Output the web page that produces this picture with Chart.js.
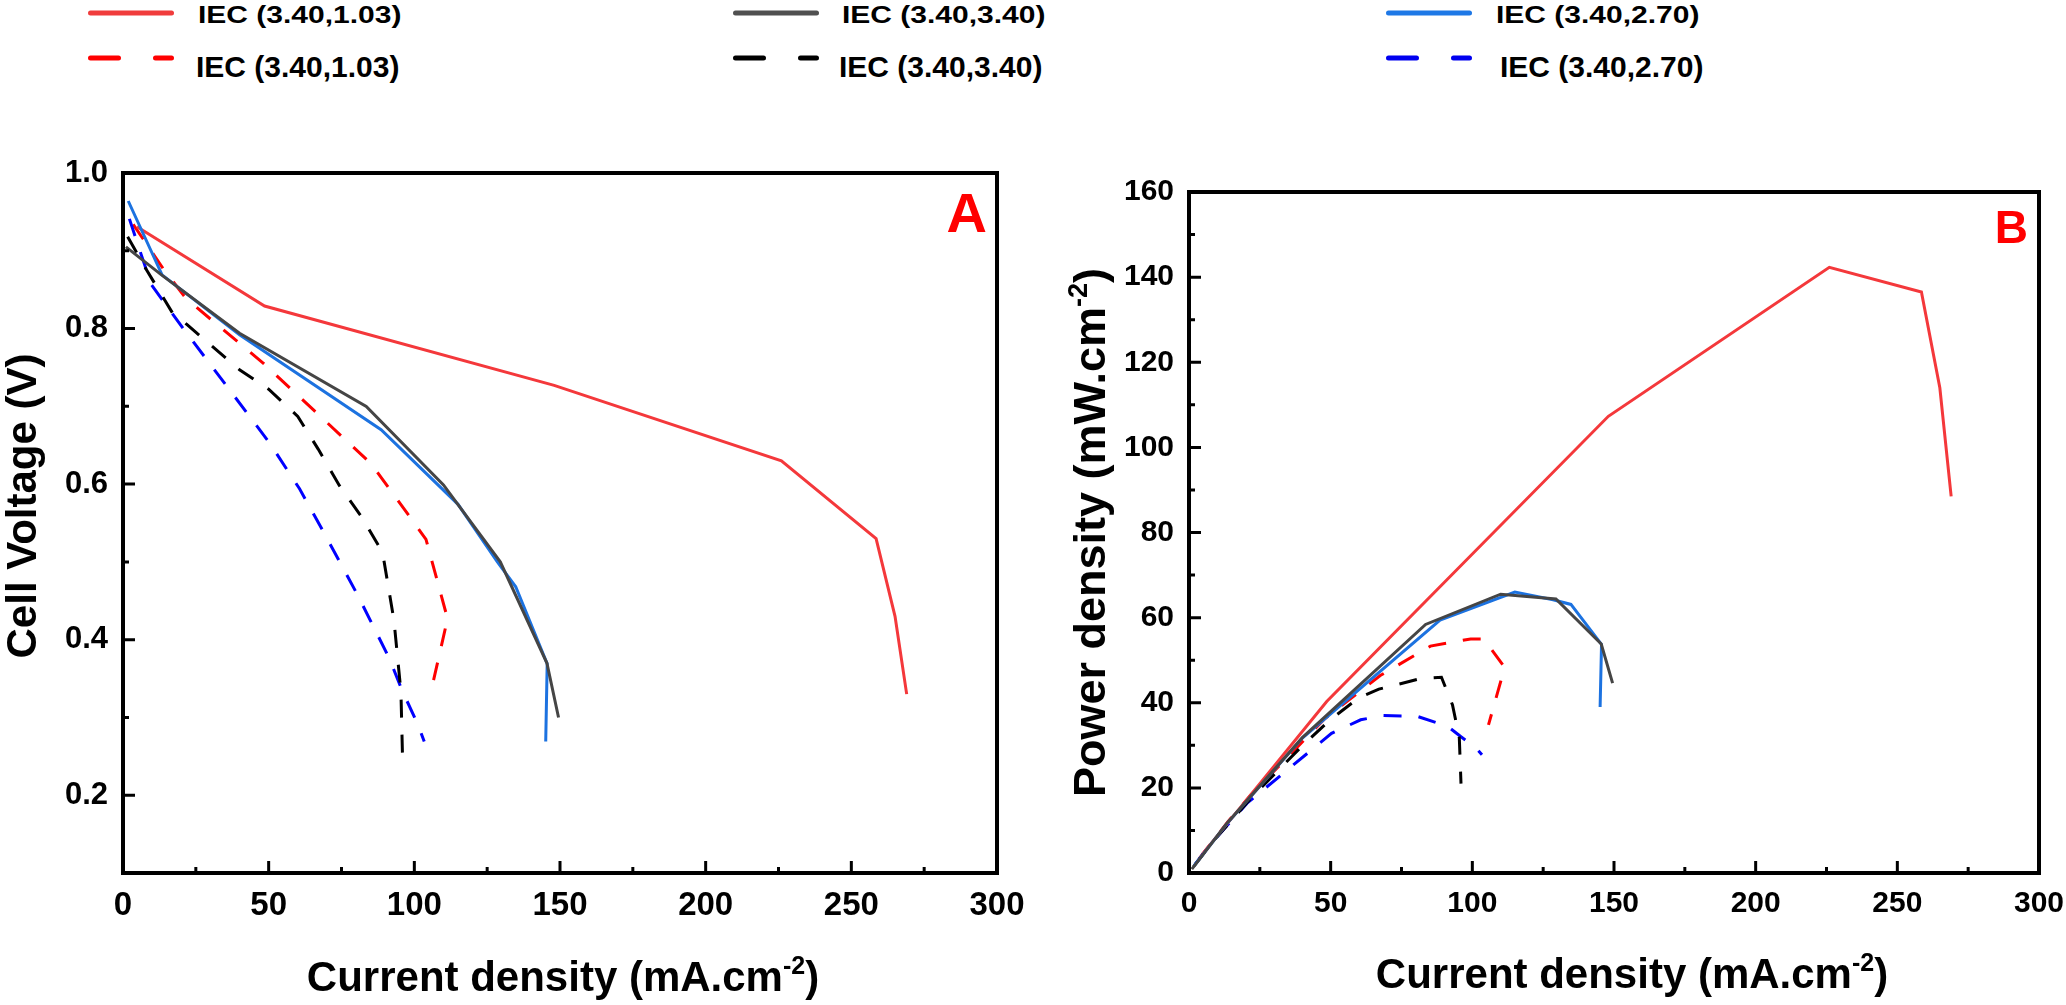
<!DOCTYPE html>
<html>
<head>
<meta charset="utf-8">
<title>IEC cell performance</title>
<script src="https://cdn.jsdelivr.net/npm/chart.js@4.4.1/dist/chart.umd.min.js"></script>
<style>
  html, body { margin: 0; padding: 0; background: #fff; }
  body { width: 2066px; height: 1005px; position: relative; overflow: hidden; font-family: "Liberation Sans", Arial, sans-serif; }
  .panel { position: absolute; top: 100px; }
  #panelA { left: 0; width: 1040px; height: 905px; }
  #panelB { left: 1040px; width: 1026px; height: 905px; }
  .legText { position: absolute; font-weight: bold; color: #000; white-space: nowrap; line-height: 1; transform-origin: 0 0; }
  .legLine { position: absolute; }
</style>
</head>
<body>
<div id="legend"></div>
<div class="panel" id="panelA"><canvas id="chartA" width="1040" height="905"></canvas></div>
<div class="panel" id="panelB"><canvas id="chartB" width="1026" height="905"></canvas></div>
<script>
// series names (same label for solid and dashed pair)
const seriesNames = ['IEC (3.40,1.03)', 'IEC (3.40,3.40)', 'IEC (3.40,2.70)'];

// current density, mA.cm-2
const jRed       = [4.8, 48.6, 148, 226, 258.5, 265, 269];
const jGray      = [1.0, 13.2, 40, 83.5, 110, 129.5, 145.5, 149.5];
const jBlue      = [1.8, 13.4, 40, 88.6, 115, 128.5, 134.8, 145.6, 145.1];
const jRedDash   = [3.5, 13.8, 21.8, 48, 67.5, 85.2, 99.4, 104, 111.4, 105.7];
const jBlackDash = [1.6, 8, 17, 22, 40, 50, 60, 67, 74.3, 81.7, 89.1, 93, 95.4, 96];
const jBlueDash  = [2.2, 5.8, 9.8, 20.5, 50.3, 60.6, 68.6, 80.6, 91.4, 96, 101.1, 103.4];

// cell voltage, V
const vRed       = [0.931, 0.829, 0.727, 0.630, 0.530, 0.430, 0.330];
const vGray      = [0.905, 0.869, 0.794, 0.700, 0.599, 0.500, 0.370, 0.300];
const vBlue      = [0.964, 0.869, 0.792, 0.670, 0.574, 0.500, 0.468, 0.369, 0.269];
const vRedDash   = [0.934, 0.877, 0.838, 0.756, 0.688, 0.626, 0.553, 0.529, 0.427, 0.333];
const vBlackDash = [0.918, 0.876, 0.820, 0.805, 0.747, 0.722, 0.687, 0.645, 0.598, 0.559, 0.512, 0.425, 0.333, 0.241];
const vBlueDash  = [0.941, 0.900, 0.856, 0.801, 0.653, 0.594, 0.540, 0.457, 0.376, 0.333, 0.292, 0.269];

// power density, mW.cm-2
const pRed       = [4.5, 40.3, 107.3, 142.3, 136.5, 114, 88.5];
const pGray      = [0.9, 11.5, 31.8, 58.4, 65.5, 64.4, 53.8, 44.6];
const pBlue      = [1.7, 11.6, 31.7, 59.4, 66.0, 64.2, 63.1, 53.7, 39.0];
const pRedDash   = [3.3, 12.1, 18.3, 36.3, 46.4, 53.3, 55.0, 55.0, 48.3, 34.8];
const pBlackDash = [1.5, 7.0, 13.9, 17.7, 29.9, 36.1, 41.2, 43.2, 44.4, 45.7, 46.0, 39.5, 31.8, 21.0];
const pBlueDash  = [2.1, 5.2, 8.4, 16.4, 32.8, 36.0, 37.0, 36.8, 34.4, 32.0, 29.5, 27.8];

// tick values
const currentTicks = [0, 50, 100, 150, 200, 250, 300];
const currentMinor = [25, 75, 125, 175, 225, 275];
const voltTicks = [0.2, 0.4, 0.6, 0.8, 1.0];
const voltMinor = [0.3, 0.5, 0.7, 0.9];
const powerTicks = [0, 20, 40, 60, 80, 100, 120, 140, 160];
const powerMinor = [10, 30, 50, 70, 90, 110, 130, 150];

const FONT = '"Liberation Sans", Arial, Helvetica, sans-serif';
const DASH = [18, 17];

// line colours
const cRed = '#f4383b', cRedDash = '#ff0000';
const cGray = '#454545', cBlackDash = '#000000';
const cBlue = '#1c72e0', cBlueDash = '#0000ff';

function pts(xs, ys) {
    return xs.map((x, i) => ({x: x, y: ys[i]}));
}

function line(label, xs, ys, color, dash) {
    return {
        label: label,
        data: pts(xs, ys),
        borderColor: color,
        backgroundColor: color,
        borderWidth: 3,
        borderDash: dash || [],
        pointRadius: 0,
        tension: 0,
        fill: false
    };
}

// text with a small raised part, e.g. cm-2
function drawRich(ctx, t, x, y, rot) {
    ctx.save();
    ctx.translate(x, y);
    ctx.rotate(rot);
    ctx.fillStyle = '#000';
    ctx.textBaseline = 'alphabetic';
    ctx.textAlign = 'left';
    const big = 'bold ' + t.size + 'px ' + FONT;
    const small = 'bold ' + Math.round(t.size * 0.6) + 'px ' + FONT;
    ctx.font = big;
    const w1 = ctx.measureText(t.text).width;
    const w3 = ctx.measureText(t.tail).width;
    ctx.font = small;
    const w2 = ctx.measureText(t.sup).width;
    const x0 = -(w1 + w2 + w3) / 2;
    ctx.font = big;
    ctx.fillText(t.text, x0, 0);
    ctx.font = small;
    ctx.fillText(t.sup, x0 + w1, -t.size * 0.4);
    ctx.font = big;
    ctx.fillText(t.tail, x0 + w1 + w2, 0);
    ctx.restore();
}

// box, inward ticks, panel letter and axis titles
function makeFrame(o) {
    return {
        id: 'frame',
        afterDraw(chart) {
            const ctx = chart.ctx, a = chart.chartArea;
            const sx = chart.scales.x, sy = chart.scales.y;
            ctx.save();
            ctx.strokeStyle = '#000';
            ctx.lineWidth = 3;
            ctx.beginPath();
            o.xMajor.forEach(v => { const p = sx.getPixelForValue(v); ctx.moveTo(p, a.bottom); ctx.lineTo(p, a.bottom - 12); });
            o.xMinor.forEach(v => { const p = sx.getPixelForValue(v); ctx.moveTo(p, a.bottom); ctx.lineTo(p, a.bottom - 6); });
            o.yMajor.forEach(v => { const p = sy.getPixelForValue(v); ctx.moveTo(a.left, p); ctx.lineTo(a.left + 12, p); });
            o.yMinor.forEach(v => { const p = sy.getPixelForValue(v); ctx.moveTo(a.left, p); ctx.lineTo(a.left + 6, p); });
            ctx.stroke();
            ctx.lineWidth = 4;
            ctx.strokeRect(a.left, a.top, a.right - a.left, a.bottom - a.top);

            ctx.fillStyle = '#ff0000';
            ctx.font = 'bold ' + o.letter.size + 'px ' + FONT;
            ctx.textAlign = 'right';
            ctx.textBaseline = 'alphabetic';
            ctx.fillText(o.letter.text, a.right - o.letter.dx, a.top + o.letter.dy);
            ctx.restore();

            drawRich(ctx, o.xTitle, (a.left + a.right) / 2 + o.xTitle.dx, a.bottom + o.xTitle.dy, 0);
            drawRich(ctx, o.yTitle, a.left - o.yTitle.dx, (a.top + a.bottom) / 2 + o.yTitle.dy, -Math.PI / 2);
        }
    };
}

function scales(xTicks, yTicks, yMin, yMax, yFmt, tickSize, yWidth) {
    return {
        x: {
            type: 'linear', min: 0, max: 300,
            grid: {display: false, drawTicks: false},
            border: {display: false},
            afterBuildTicks: s => { s.ticks = xTicks.map(v => ({value: v})); },
            afterFit: s => { s.height = 132; s.paddingLeft = 0; s.paddingRight = 0; },
            ticks: {
                autoSkip: false, maxRotation: 0, padding: 13, color: '#000',
                font: {family: FONT, size: tickSize.x, weight: 'bold'},
                callback: v => String(v)
            }
        },
        y: {
            type: 'linear', min: yMin, max: yMax,
            grid: {display: false, drawTicks: false},
            border: {display: false},
            afterBuildTicks: s => { s.ticks = yTicks.map(v => ({value: v})); },
            afterFit: s => { s.width = yWidth; s.paddingTop = 0; s.paddingBottom = 0; },
            ticks: {
                autoSkip: false, padding: 15, color: '#000',
                font: {family: FONT, size: tickSize.y, weight: 'bold'},
                callback: yFmt
            }
        }
    };
}

const common = {
    responsive: false,
    animation: false,
    devicePixelRatio: 1,
    plugins: {legend: {display: false}, tooltip: {enabled: false}}
};

new Chart(document.getElementById('chartA'), {
    type: 'line',
    data: {
        datasets: [
            line(seriesNames[1], jGray, vGray, cGray),
            line(seriesNames[2], jBlue, vBlue, cBlue),
            line(seriesNames[0], jRed, vRed, cRed),
            line(seriesNames[1], jBlackDash, vBlackDash, cBlackDash, DASH),
            line(seriesNames[2], jBlueDash, vBlueDash, cBlueDash, DASH),
            line(seriesNames[0], jRedDash, vRedDash, cRedDash, DASH)
        ]
    },
    options: Object.assign({}, common, {
        layout: {padding: {top: 73, right: 43, bottom: 0, left: 0}},
        scales: scales(currentTicks, voltTicks, 0.1, 1.0, v => v.toFixed(1), {x: 33, y: 31}, 123)
    }),
    plugins: [makeFrame({
        xMajor: currentTicks, xMinor: currentMinor, yMajor: voltTicks, yMinor: voltMinor,
        letter: {text: 'A', size: 56, dx: 10, dy: 59},
        xTitle: {text: 'Current density (mA.cm', sup: '-2', tail: ')', size: 42, dx: 3, dy: 118},
        yTitle: {text: 'Cell Voltage (V)', sup: '', tail: '', size: 42, dx: 87, dy: -17}
    })]
});

new Chart(document.getElementById('chartB'), {
    type: 'line',
    data: {
        datasets: [
            line(seriesNames[1], jGray, pGray, cGray),
            line(seriesNames[2], jBlue, pBlue, cBlue),
            line(seriesNames[0], jRed, pRed, cRed),
            line(seriesNames[1], jBlackDash, pBlackDash, cBlackDash, DASH),
            line(seriesNames[2], jBlueDash, pBlueDash, cBlueDash, DASH),
            line(seriesNames[0], jRedDash, pRedDash, cRedDash, DASH)
        ]
    },
    options: Object.assign({}, common, {
        layout: {padding: {top: 92, right: 27, bottom: 0, left: 0}},
        scales: scales(currentTicks, powerTicks, 0, 160, v => String(v), {x: 30, y: 30}, 149)
    }),
    plugins: [makeFrame({
        xMajor: currentTicks, xMinor: currentMinor, yMajor: powerTicks, yMinor: powerMinor,
        letter: {text: 'B', size: 46, dx: 11, dy: 51},
        xTitle: {text: 'Current density (mA.cm', sup: '-2', tail: ')', size: 42, dx: 18, dy: 115},
        yTitle: {text: 'Power density (mW.cm', sup: '-2', tail: ')', size: 45, dx: 84, dy: 0}
    })]
});

// legend across the top: three columns, solid row then dashed row
const legendCols = [
    {name: seriesNames[0], solid: '#f03c3c', dashed: '#ff0000', lineX: 88, textX: [198, 196]},
    {name: seriesNames[1], solid: '#505050', dashed: '#000000', lineX: 733, textX: [842, 839]},
    {name: seriesNames[2], solid: '#1e78e6', dashed: '#0000f0', lineX: 1386, textX: [1496, 1500]}
];
const legendRows = [
    {lineY: 13, textTop: 3, size: 24, stretch: 1.25, dash: ''},
    {lineY: 58, textTop: 52, size: 30, stretch: 1.0, dash: '28 37'}
];
const legend = document.getElementById('legend');
legendCols.forEach(col => {
    legendRows.forEach((row, r) => {
        const color = r === 0 ? col.solid : col.dashed;
        const svg = '<svg class="legLine" style="left:' + col.lineX + 'px;top:' + (row.lineY - 5) + 'px" width="86" height="10">' +
            '<line x1="2.5" y1="5" x2="83.5" y2="5" stroke="' + color + '" stroke-width="5" stroke-linecap="round"' +
            (row.dash ? ' stroke-dasharray="' + row.dash + '"' : '') + '/></svg>';
        legend.insertAdjacentHTML('beforeend', svg);
        const t = document.createElement('div');
        t.className = 'legText';
        t.textContent = col.name;
        t.style.left = col.textX[r] + 'px';
        t.style.top = row.textTop + 'px';
        t.style.fontSize = row.size + 'px';
        t.style.transform = 'scaleX(' + row.stretch + ')';
        legend.appendChild(t);
    });
});
</script>
</body>
</html>
